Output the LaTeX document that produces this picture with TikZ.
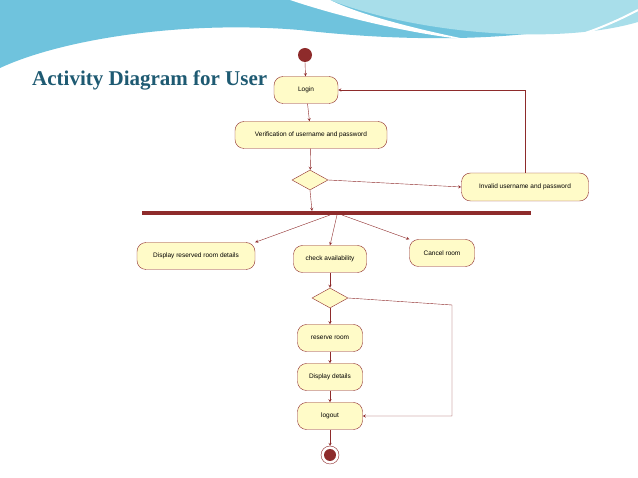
\documentclass[tikz,border=0pt]{standalone}
\usepackage{fontspec}
\setmainfont{Liberation Serif}
\newfontfamily\umlfont{Liberation Sans}
\usetikzlibrary{shapes.geometric}
\definecolor{umlline}{HTML}{8E2B2B}
\definecolor{umlfill}{HTML}{FFFBC8}
\definecolor{titleblue}{HTML}{1E5A72}
\definecolor{waveA}{HTML}{6FC3DD}
\definecolor{waveB}{HTML}{A8DEEA}
\tikzset{
  act/.style={draw=umlline,fill=umlfill,rounded corners=9pt,minimum height=27pt,font=\umlfont\fontsize{6.5}{7.5}\selectfont},
  dec/.style={draw=umlline,fill=umlfill,diamond,aspect=1.8,minimum width=36pt,minimum height=20pt,inner sep=0pt},
  flow/.style={draw=umlline,->,>=stealth,thin}
}
\begin{document}
\begin{tikzpicture}[x=1pt,y=-1pt]
\useasboundingbox (0,0) rectangle (638,478);
\fill[white] (0,0) rectangle (638,478);
% header waves
\fill[waveA] (0,0) -- (638,0) -- (638,10) .. controls (560,40) and (430,45) .. (300,30) .. controls (180,20) and (60,40) .. (0,68) -- cycle;
\fill[waveB] (330,0) -- (638,0) -- (638,22) .. controls (560,45) and (420,35) .. (330,0) -- cycle;
\fill[white] (290,0) .. controls (350,20) and (420,35) .. (470,40) .. controls (420,30) and (360,15) .. (330,0) -- cycle;
\draw[white,line width=2pt] (0,70) .. controls (120,30) and (300,30) .. (460,50) .. controls (540,55) and (600,30) .. (638,10);
\node[font=\bfseries\fontsize{21}{24}\selectfont,text=titleblue,anchor=west,inner sep=0pt] (title) at (32,80) {Activity Diagram for User};
% nodes
\fill[umlline] (305,55) circle (7pt) coordinate (start);
\node[act,minimum width=64pt] (login) at (306,90) {Login};
\node[act,minimum width=152pt] (verify) at (311,135) {Verification of username and password};
\node[dec] (d1) at (310,180) {};
\node[act,minimum width=127pt,minimum height=28pt] (invalid) at (525,187) {Invalid username and password};
\fill[umlline] (142,211) rectangle (531,215);
\coordinate (barin) at (312,211);
\coordinate (b1) at (330,215); \coordinate (b2) at (337,215); \coordinate (b3) at (342,215);
\node[act,minimum width=118pt] (showres) at (196,256) {Display reserved room details};
\node[act,minimum width=73pt] (check) at (330,259) {check availability};
\node[act,minimum width=65pt] (cancel) at (442,253) {Cancel room};
\node[dec] (d2) at (330,298) {};
\node[act,minimum width=65pt] (reserve) at (330,338) {reserve room};
\node[act,minimum width=65pt] (details) at (330,377) {Display details};
\node[act,minimum width=65pt] (logout) at (330,416) {logout};
\draw[umlline,fill=white] (330,455) circle (9pt);
\fill[umlline] (330,455) circle (6pt);
\coordinate (end) at (330,446);
% flows
\draw[flow] (305,62) -- (login);
\draw[flow] (login) -- (verify);
\draw[flow] (verify) -- (d1);
\draw[flow] (d1.east) -- (invalid.west);
\draw[flow] (invalid.north) |- (login.east);
\draw[flow] (d1.south) -- (barin);
\draw[flow] (b1) -- (showres.north east);
\draw[flow] (b2) -- (check.north);
\draw[flow] (b3) -- (cancel.north west);
\draw[flow] (check) -- (d2);
\draw[flow] (d2.east) -- (452,305) |- (logout.east);
\draw[flow] (d2) -- (reserve);
\draw[flow] (reserve) -- (details);
\draw[flow] (details) -- (logout);
\draw[flow] (logout) -- (end);
\end{tikzpicture}
\end{document}
